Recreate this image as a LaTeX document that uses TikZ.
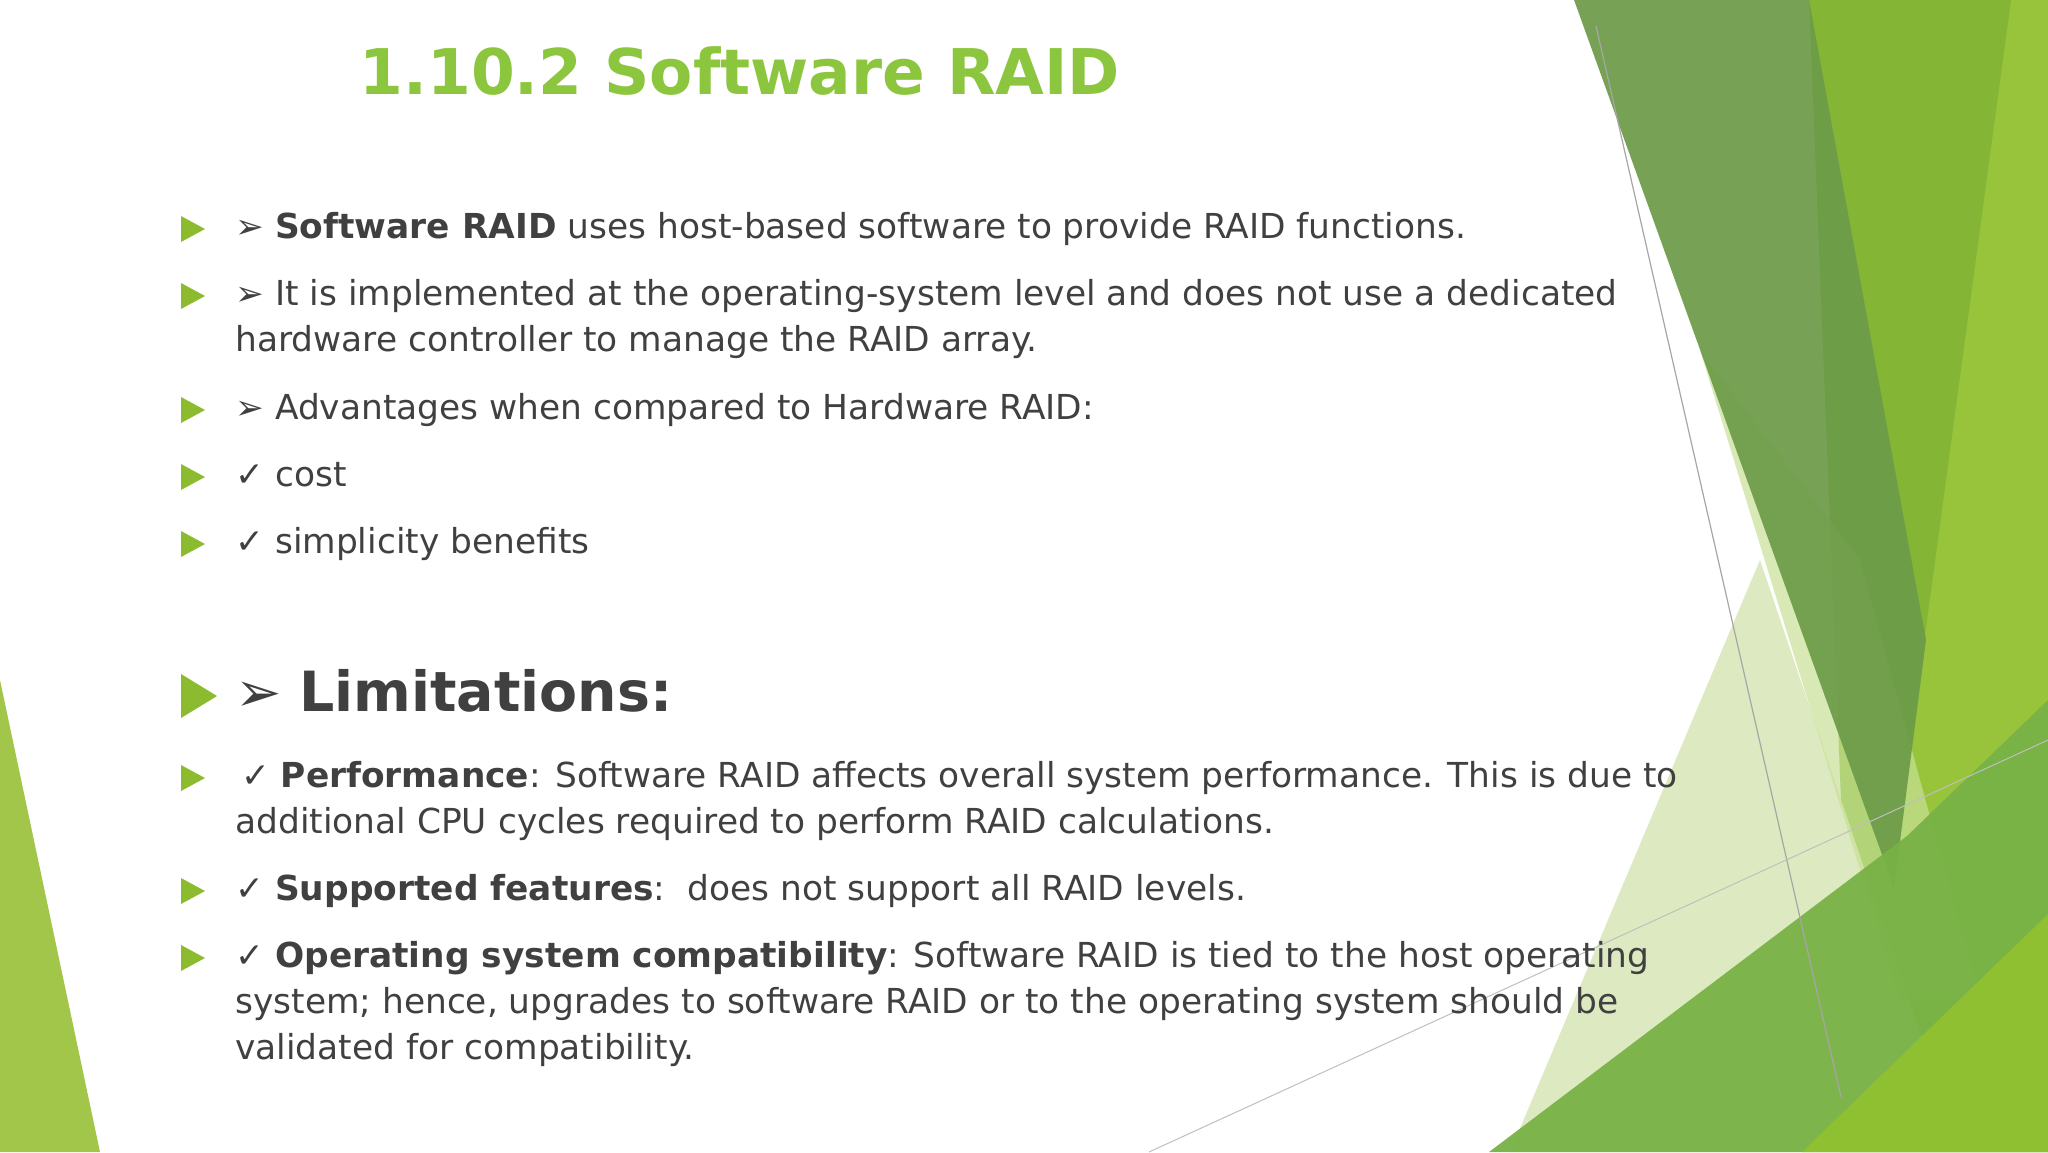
\documentclass[tikz,border=0pt]{standalone}
\usepackage{fontspec}
\setmainfont{DejaVu Sans}
\definecolor{txt}{HTML}{404040}
\definecolor{ttl}{HTML}{8CC63F}
\definecolor{bul}{HTML}{8DBB30}
\definecolor{cL}{HTML}{A1C64A}
\definecolor{cR}{RGB}{152,196,60}
\definecolor{cB}{RGB}{132,181,52}
\definecolor{cP}{RGB}{221,234,193}
\definecolor{cQ}{RGB}{200,225,150}
\definecolor{cA}{RGB}{108,155,72}
\definecolor{cC}{RGB}{120,178,70}
\definecolor{cD}{RGB}{143,192,49}
\tikzset{
  body/.style={anchor=base west,align=left,text=txt,font=\fontsize{17.2}{23}\selectfont,inner sep=0pt},
  bull/.style={fill=bul,draw=none},
  shp/.style={draw=none}
}
\newcommand{\tri}[2]{\fill[bull] (#1,#2-13) -- (#1+24,#2) -- (#1,#2+13) -- cycle;}
\begin{document}
\begin{tikzpicture}[x=0.5pt,y=-0.5pt]
\useasboundingbox (0,0) rectangle (2048,1152);
\fill[white] (0,0) rectangle (2048,1152);
% left triangle
\fill[shp,fill=cL] (0,680) -- (100,1152) -- (0,1152) -- cycle;
% right decorations
\fill[shp,fill=cR] (1990,0) -- (2048,0) -- (2048,1152) -- (1840,1152) -- cycle;
\fill[shp,fill=cB] (1809,0) -- (2011,0) -- (1855,1152) -- cycle;
\fill[shp,fill=cP] (1510,1152) -- (1760,560) -- (1960,1152) -- cycle;
\fill[shp,fill=cQ,opacity=0.7] (1700,350) -- (1860,560) -- (1980,1000) -- (1900,1000) -- cycle;
\fill[shp,fill=cA,opacity=0.92] (1574,0) -- (1809,0) -- (1926,640) -- (1894,888) -- cycle;
\fill[shp,fill=cC,opacity=0.95] (1489,1152) -- (1907,836) -- (2048,700) -- (2048,1152) -- cycle;
\fill[shp,fill=cD] (1802,1152) -- (2048,914) -- (2048,1152) -- cycle;
\draw[gray!70,line width=0.6pt] (1596,26) -- (1841,1097);
\draw[gray!50,line width=0.5pt] (1149,1152) -- (2048,740);
% title
\node[anchor=base west,inner sep=0pt,text=ttl,font=\fontsize{31.5}{38}\selectfont\bfseries] (title) at (359,94) {1.10.2 Software RAID};
% bullets
\tri{181}{229}\node[body] (l1) at (235,238) {➢ \textbf{Software RAID} uses host-based software to provide RAID functions.};
\tri{181}{296}\node[body] (l2) at (235,351) {➢ It is implemented at the operating-system level and does not use a dedicated\\hardware controller to manage the RAID array.};
\tri{181}{410}\node[body] (l3) at (235,419) {➢ Advantages when compared to Hardware RAID:};
\tri{181}{477}\node[body] (l4) at (235,486) {✓ cost};
\tri{181}{544}\node[body] (l5) at (235,553) {✓ simplicity benefits};
\fill[bull] (181,674) -- (217,696) -- (181,718) -- cycle;
\node[body,font=\fontsize{27.7}{34}\selectfont] (l6) at (235,711) {➢ \textbf{Limitations:}};
\tri{181}{778}\node[body] (l7) at (235,833) {\,✓ \textbf{Performance}: Software RAID affects overall system performance. This is due to\\additional CPU cycles required to perform RAID calculations.};
\tri{181}{891}\node[body] (l8) at (235,900) {✓ \textbf{Supported features}:\ \ does not support all RAID levels.};
\tri{181}{958}\node[body] (l9) at (235,1059) {✓ \textbf{Operating system compatibility}: Software RAID is tied to the host operating\\system; hence, upgrades to software RAID or to the operating system should be\\validated for compatibility.};
\end{tikzpicture}
\end{document}
